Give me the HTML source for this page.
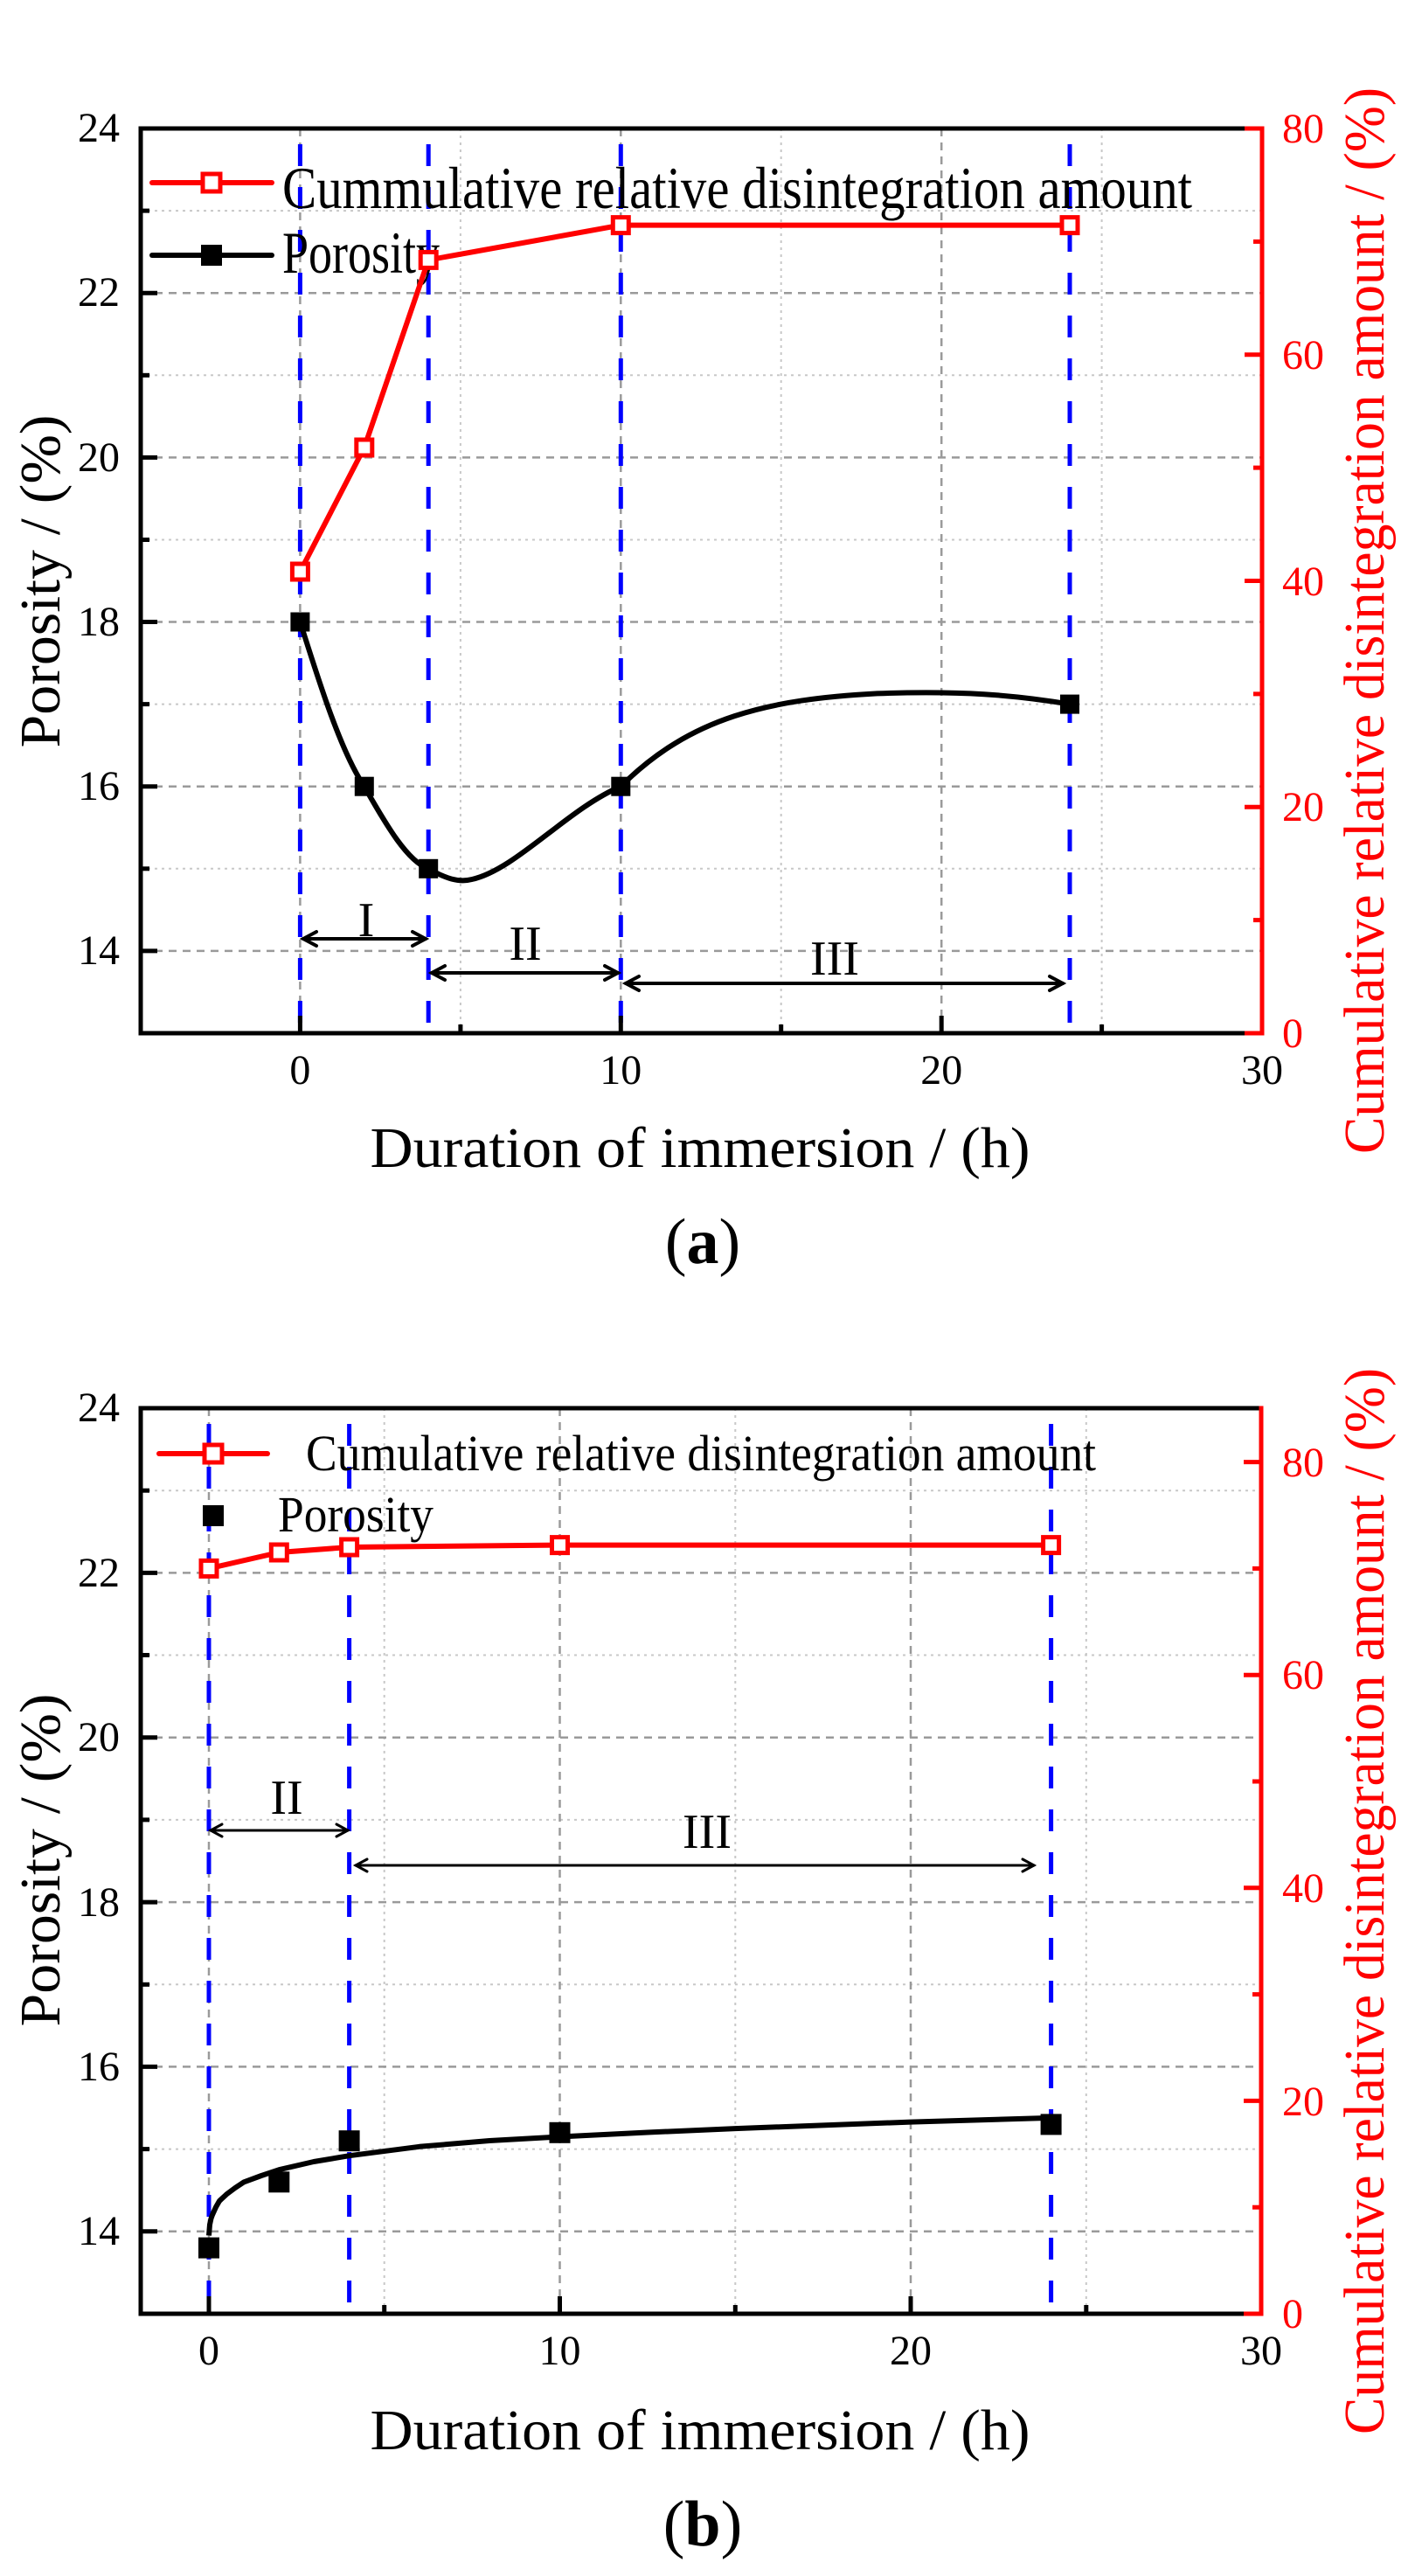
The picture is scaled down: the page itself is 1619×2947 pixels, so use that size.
<!DOCTYPE html>
<html><head><meta charset="utf-8"><style>
html,body{margin:0;padding:0;background:#fff;}
svg{display:block;}
text,tspan{font-family:"Liberation Serif","DejaVu Serif",serif;}
</style></head><body>
<svg width="1619" height="2947" viewBox="0 0 1619 2947" xmlns="http://www.w3.org/2000/svg" font-family="Liberation Serif, serif">
<!-- ===== Chart A ===== -->
<g>
<g stroke="#c8c8c8" stroke-width="2" stroke-dasharray="3,5" fill="none">
<line x1="161" y1="241.1" x2="1444" y2="241.1"/><line x1="161" y1="429.3" x2="1444" y2="429.3"/><line x1="161" y1="617.5" x2="1444" y2="617.5"/><line x1="161" y1="805.6" x2="1444" y2="805.6"/><line x1="161" y1="993.8" x2="1444" y2="993.8"/>
<line x1="526.9" y1="147" x2="526.9" y2="1182"/><line x1="893.7" y1="147" x2="893.7" y2="1182"/><line x1="1260.6" y1="147" x2="1260.6" y2="1182"/>
</g>
<g stroke="#9a9a9a" stroke-width="2.5" stroke-dasharray="9,7" fill="none">
<line x1="161" y1="335.2" x2="1444" y2="335.2"/><line x1="161" y1="523.4" x2="1444" y2="523.4"/><line x1="161" y1="711.5" x2="1444" y2="711.5"/><line x1="161" y1="899.7" x2="1444" y2="899.7"/><line x1="161" y1="1087.9" x2="1444" y2="1087.9"/>
<line x1="343.4" y1="147" x2="343.4" y2="1182"/><line x1="710.3" y1="147" x2="710.3" y2="1182"/><line x1="1077.2" y1="147" x2="1077.2" y2="1182"/>
</g>
<g stroke="#0000ff" stroke-width="5" stroke-dasharray="25,24" fill="none">
<line x1="343.4" y1="165" x2="343.4" y2="1182"/><line x1="490.2" y1="165" x2="490.2" y2="1182"/><line x1="710.3" y1="165" x2="710.3" y2="1182"/><line x1="1224" y1="165" x2="1224" y2="1182"/>
</g>
<line x1="174" y1="209" x2="311" y2="209" stroke="#f00" stroke-width="6" stroke-linecap="round"/>
<rect x="232" y="199" width="20" height="20" fill="#fff" stroke="#f00" stroke-width="5"/>
<line x1="174" y1="292" x2="311" y2="292" stroke="#000" stroke-width="6" stroke-linecap="round"/>
<rect x="230" y="280" width="24" height="24" fill="#000"/>
<text x="323" y="238" font-size="68" textLength="1041" lengthAdjust="spacingAndGlyphs">Cummulative relative disintegration amount</text>
<text x="323" y="312" font-size="68" textLength="180" lengthAdjust="spacingAndGlyphs">Porosity</text>
<polyline points="343.4,654 416.8,512 490.2,297.4 710.3,257.6 1224,257.6" fill="none" stroke="#f00" stroke-width="6" stroke-linejoin="round"/>
<g fill="#fff" stroke="#f00" stroke-width="5">
<rect x="334.4" y="645" width="18" height="18"/><rect x="407.8" y="503" width="18" height="18"/><rect x="481.2" y="288.4" width="18" height="18"/><rect x="701.3" y="248.6" width="18" height="18"/><rect x="1215" y="248.6" width="18" height="18"/>
</g>
<path d="M343.4,711.5 C365,780 390,860 416.8,899.7 C440,940 465,985 490.2,993.8 C510,1005 525,1010 540,1006 C590,995 650,925 710.3,899.7 C790,820 880,800 1003.8,793.4 C1100,790 1160,795 1224,805.6" fill="none" stroke="#000" stroke-width="6" stroke-linejoin="round"/>
<g fill="#000">
<rect x="332.4" y="700.5" width="22" height="22"/><rect x="405.8" y="888.7" width="22" height="22"/><rect x="479.2" y="982.8" width="22" height="22"/><rect x="699.3" y="888.7" width="22" height="22"/><rect x="1213" y="794.6" width="22" height="22"/>
</g>
<g stroke="#000" stroke-width="4" fill="none" stroke-linecap="round">
<line x1="347" y1="1074" x2="487" y2="1074"/><polyline points="362,1066 347,1074 362,1082"/><polyline points="472,1066 487,1074 472,1082"/>
<line x1="494" y1="1113" x2="707" y2="1113"/><polyline points="509,1105 494,1113 509,1121"/><polyline points="692,1105 707,1113 692,1121"/>
<line x1="716" y1="1125" x2="1216" y2="1125"/><polyline points="731,1117 716,1125 731,1133"/><polyline points="1201,1117 1216,1125 1201,1133"/>
</g>
<text x="419" y="1071" font-size="56" text-anchor="middle">I</text>
<text x="601" y="1098" font-size="56" text-anchor="middle">II</text>
<text x="955" y="1115" font-size="56" text-anchor="middle">III</text>
<g stroke="#000" stroke-width="5" fill="none">
<line x1="161" y1="147" x2="1444" y2="147"/>
<line x1="161" y1="144.5" x2="161" y2="1184.5"/>
<line x1="158.5" y1="1182" x2="1444" y2="1182"/>
<line x1="161" y1="335.2" x2="180" y2="335.2"/><line x1="161" y1="523.4" x2="180" y2="523.4"/><line x1="161" y1="711.5" x2="180" y2="711.5"/><line x1="161" y1="899.7" x2="180" y2="899.7"/><line x1="161" y1="1087.9" x2="180" y2="1087.9"/>
<line x1="161" y1="241.1" x2="171" y2="241.1"/><line x1="161" y1="429.3" x2="171" y2="429.3"/><line x1="161" y1="617.5" x2="171" y2="617.5"/><line x1="161" y1="805.6" x2="171" y2="805.6"/><line x1="161" y1="993.8" x2="171" y2="993.8"/>
<line x1="343.4" y1="1182" x2="343.4" y2="1162"/><line x1="710.3" y1="1182" x2="710.3" y2="1162"/><line x1="1077.2" y1="1182" x2="1077.2" y2="1162"/>
<line x1="526.9" y1="1182" x2="526.9" y2="1172"/><line x1="893.7" y1="1182" x2="893.7" y2="1172"/><line x1="1260.6" y1="1182" x2="1260.6" y2="1172"/>
</g>
<g stroke="#f00" stroke-width="5" fill="none">
<line x1="1444" y1="144.5" x2="1444" y2="1184.5"/><line x1="1424" y1="147" x2="1444" y2="147"/><line x1="1424" y1="1182" x2="1444" y2="1182"/>
<line x1="1424" y1="923.2" x2="1444" y2="923.2"/><line x1="1424" y1="664.5" x2="1444" y2="664.5"/><line x1="1424" y1="405.8" x2="1444" y2="405.8"/>
<line x1="1434" y1="1052.6" x2="1444" y2="1052.6"/><line x1="1434" y1="793.9" x2="1444" y2="793.9"/><line x1="1434" y1="535.1" x2="1444" y2="535.1"/><line x1="1434" y1="276.4" x2="1444" y2="276.4"/>
</g>
<g font-size="48" text-anchor="end">
<text x="137" y="162">24</text><text x="137" y="350">22</text><text x="137" y="539">20</text><text x="137" y="727">18</text><text x="137" y="915">16</text><text x="137" y="1103">14</text>
</g>
<g font-size="48" text-anchor="middle">
<text x="343.4" y="1240">0</text><text x="710.3" y="1240">10</text><text x="1077.2" y="1240">20</text><text x="1444" y="1240">30</text>
</g>
<g font-size="48" fill="#f00">
<text x="1467" y="163">80</text><text x="1467" y="422">60</text><text x="1467" y="681">40</text><text x="1467" y="939">20</text><text x="1467" y="1198">0</text>
</g>
<text x="801" y="1335" font-size="66" text-anchor="middle" textLength="755" lengthAdjust="spacingAndGlyphs">Duration of immersion / (h)</text>
<text transform="translate(68,665) rotate(-90)" font-family="Liberation Serif, serif" font-size="66" text-anchor="middle" textLength="381" lengthAdjust="spacingAndGlyphs">Porosity / (%)</text>
<text transform="translate(1583,710) rotate(-90)" font-family="Liberation Serif, serif" font-size="66" fill="#f00" text-anchor="middle" textLength="1220" lengthAdjust="spacingAndGlyphs">Cumulative relative disintegration amount / (%)</text>
<text x="804" y="1445" font-size="74" text-anchor="middle">(<tspan font-weight="bold">a</tspan>)</text>
</g>

<!-- ===== Chart B ===== -->
<g>
<g stroke="#c8c8c8" stroke-width="2" stroke-dasharray="3,5" fill="none">
<line x1="161" y1="1705.2" x2="1443" y2="1705.2"/><line x1="161" y1="1893.5" x2="1443" y2="1893.5"/><line x1="161" y1="2081.9" x2="1443" y2="2081.9"/><line x1="161" y1="2270.3" x2="1443" y2="2270.3"/><line x1="161" y1="2458.6" x2="1443" y2="2458.6"/>
<line x1="439.7" y1="1611" x2="439.7" y2="2647"/><line x1="841.3" y1="1611" x2="841.3" y2="2647"/><line x1="1242.8" y1="1611" x2="1242.8" y2="2647"/>
</g>
<g stroke="#9a9a9a" stroke-width="2.5" stroke-dasharray="9,7" fill="none">
<line x1="161" y1="1799.4" x2="1443" y2="1799.4"/><line x1="161" y1="1987.7" x2="1443" y2="1987.7"/><line x1="161" y1="2176.1" x2="1443" y2="2176.1"/><line x1="161" y1="2364.4" x2="1443" y2="2364.4"/><line x1="161" y1="2552.8" x2="1443" y2="2552.8"/>
<line x1="239" y1="1611" x2="239" y2="2647"/><line x1="640.5" y1="1611" x2="640.5" y2="2647"/><line x1="1042" y1="1611" x2="1042" y2="2647"/>
</g>
<g stroke="#0000ff" stroke-width="5" stroke-dasharray="25,24" fill="none">
<line x1="239" y1="1629" x2="239" y2="2647"/><line x1="399.6" y1="1629" x2="399.6" y2="2647"/><line x1="1202.6" y1="1629" x2="1202.6" y2="2647"/>
</g>
<line x1="182" y1="1663" x2="306" y2="1663" stroke="#f00" stroke-width="6" stroke-linecap="round"/>
<rect x="234" y="1653" width="20" height="20" fill="#fff" stroke="#f00" stroke-width="5"/>
<rect x="232" y="1722" width="24" height="24" fill="#000"/>
<text x="350" y="1682" font-size="58" textLength="904" lengthAdjust="spacingAndGlyphs">Cumulative relative disintegration amount</text>
<text x="318" y="1752" font-size="58" textLength="178" lengthAdjust="spacingAndGlyphs">Porosity</text>
<polyline points="239,1794.4 319.3,1776 399.6,1770 640.5,1767.6 1202.6,1767.6" fill="none" stroke="#f00" stroke-width="6" stroke-linejoin="round"/>
<g fill="#fff" stroke="#f00" stroke-width="5">
<rect x="230" y="1785.4" width="18" height="18"/><rect x="310.3" y="1767" width="18" height="18"/><rect x="390.6" y="1761" width="18" height="18"/><rect x="631.5" y="1758.6" width="18" height="18"/><rect x="1193.6" y="1758.6" width="18" height="18"/>
</g>
<polyline points="239,2557.5 240,2545 241.5,2538 243,2533.9 247,2525 251,2518 259.1,2510.4 269,2503 279.2,2496.3 299,2489 319.3,2482.2 359,2473 399.6,2466.2 479.9,2455.8 560,2449 640.5,2444.5 741,2439.5 841.3,2435.1 1042,2427.6 1202.6,2422.9" fill="none" stroke="#000" stroke-width="6" stroke-linejoin="round"/>
<g fill="#000">
<rect x="227" y="2559.6" width="24" height="24"/><rect x="307.3" y="2484.3" width="24" height="24"/><rect x="387.6" y="2437.2" width="24" height="24"/><rect x="628.5" y="2427.8" width="24" height="24"/><rect x="1190.6" y="2418.4" width="24" height="24"/>
</g>
<g stroke="#000" stroke-width="3" fill="none" stroke-linecap="round">
<line x1="241" y1="2094" x2="398" y2="2094"/><polyline points="254,2087 241,2094 254,2101"/><polyline points="385,2087 398,2094 385,2101"/>
<line x1="407" y1="2134" x2="1183" y2="2134"/><polyline points="420,2127 407,2134 420,2141"/><polyline points="1170,2127 1183,2134 1170,2141"/>
</g>
<text x="328" y="2075" font-size="56" text-anchor="middle">II</text>
<text x="809" y="2114" font-size="56" text-anchor="middle">III</text>
<g stroke="#000" stroke-width="5" fill="none">
<line x1="161" y1="1611" x2="1443" y2="1611"/>
<line x1="161" y1="1608.5" x2="161" y2="2649.5"/>
<line x1="158.5" y1="2647" x2="1443" y2="2647"/>
<line x1="161" y1="1799.4" x2="180" y2="1799.4"/><line x1="161" y1="1987.7" x2="180" y2="1987.7"/><line x1="161" y1="2176.1" x2="180" y2="2176.1"/><line x1="161" y1="2364.4" x2="180" y2="2364.4"/><line x1="161" y1="2552.8" x2="180" y2="2552.8"/>
<line x1="161" y1="1705.2" x2="171" y2="1705.2"/><line x1="161" y1="1893.5" x2="171" y2="1893.5"/><line x1="161" y1="2081.9" x2="171" y2="2081.9"/><line x1="161" y1="2270.3" x2="171" y2="2270.3"/><line x1="161" y1="2458.6" x2="171" y2="2458.6"/>
<line x1="239" y1="2647" x2="239" y2="2627"/><line x1="640.5" y1="2647" x2="640.5" y2="2627"/><line x1="1042" y1="2647" x2="1042" y2="2627"/>
<line x1="439.7" y1="2647" x2="439.7" y2="2637"/><line x1="841.3" y1="2647" x2="841.3" y2="2637"/><line x1="1242.8" y1="2647" x2="1242.8" y2="2637"/>
</g>
<g stroke="#f00" stroke-width="5" fill="none">
<line x1="1443" y1="1608.5" x2="1443" y2="2649.5"/><line x1="1423" y1="2647" x2="1443" y2="2647"/>
<line x1="1423" y1="2403.4" x2="1443" y2="2403.4"/><line x1="1423" y1="2159.8" x2="1443" y2="2159.8"/><line x1="1423" y1="1916.2" x2="1443" y2="1916.2"/><line x1="1423" y1="1672.6" x2="1443" y2="1672.6"/>
<line x1="1433" y1="2525.2" x2="1443" y2="2525.2"/><line x1="1433" y1="2281.6" x2="1443" y2="2281.6"/><line x1="1433" y1="2038" x2="1443" y2="2038"/><line x1="1433" y1="1794.4" x2="1443" y2="1794.4"/>
</g>
<g font-size="48" text-anchor="end">
<text x="137" y="1626">24</text><text x="137" y="1815">22</text><text x="137" y="2003">20</text><text x="137" y="2192">18</text><text x="137" y="2380">16</text><text x="137" y="2568">14</text>
</g>
<g font-size="48" text-anchor="middle">
<text x="239" y="2705">0</text><text x="640.5" y="2705">10</text><text x="1042" y="2705">20</text><text x="1443" y="2705">30</text>
</g>
<g font-size="48" fill="#f00">
<text x="1467" y="1689">80</text><text x="1467" y="1932">60</text><text x="1467" y="2176">40</text><text x="1467" y="2420">20</text><text x="1467" y="2663">0</text>
</g>
<text x="801" y="2802" font-size="66" text-anchor="middle" textLength="755" lengthAdjust="spacingAndGlyphs">Duration of immersion / (h)</text>
<text transform="translate(68,2128) rotate(-90)" font-family="Liberation Serif, serif" font-size="66" text-anchor="middle" textLength="381" lengthAdjust="spacingAndGlyphs">Porosity / (%)</text>
<text transform="translate(1583,2175) rotate(-90)" font-family="Liberation Serif, serif" font-size="66" fill="#f00" text-anchor="middle" textLength="1220" lengthAdjust="spacingAndGlyphs">Cumulative relative disintegration amount / (%)</text>
<text x="804" y="2912" font-size="74" text-anchor="middle">(<tspan font-weight="bold">b</tspan>)</text>
</g>
</svg>
</body></html>
